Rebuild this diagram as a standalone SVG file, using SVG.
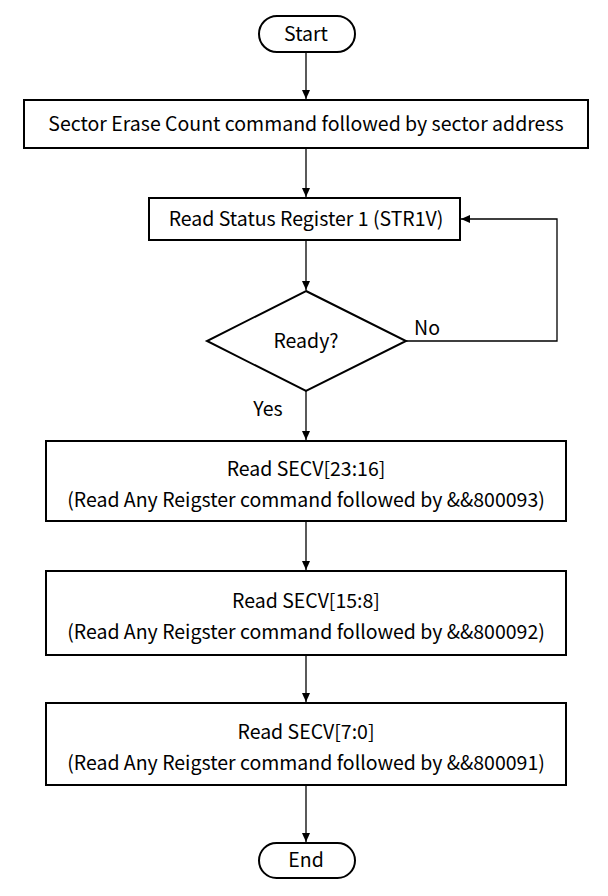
<svg xmlns="http://www.w3.org/2000/svg" width="608" height="896" viewBox="0 0 608 896">
<defs>
<marker id="ah" markerWidth="10" markerHeight="10" refX="9" refY="5" orient="auto" markerUnits="userSpaceOnUse"><path d="M0,1 L9,5 L0,9 z" fill="#000"/></marker>
<style>
.s{fill:#fff;stroke:#000;stroke-width:2}
.t{font-family:"Noto Sans CJK JP","Noto Sans",sans-serif;font-size:19.5px;text-anchor:middle;fill:#000}
.c{fill:none;stroke:#000;stroke-width:1.3;marker-end:url(#ah)}
</style>
</defs>
<rect width="608" height="896" fill="#fff"/>
<g id="start"><rect class="s" x="259" y="16" width="96" height="36" rx="18"/><text class="t" x="306" y="41">Start</text></g>
<g id="erase"><rect class="s" x="24" y="100" width="564" height="48"/><text class="t" x="306" y="131">Sector Erase Count command followed by sector address</text></g>
<g id="status"><rect class="s" x="149" y="198" width="311" height="42"/><text class="t" x="306" y="226">Read Status Register 1 (STR1V)</text></g>
<g id="ready"><polygon class="s" points="306,291 406,341 306,391 207,341"/><text class="t" x="306" y="348">Ready?</text></g>
<g id="secv1"><rect class="s" x="46" y="441" width="520" height="80"/><text class="t" x="306" y="476">Read SECV[23:16]</text><text class="t" x="306" y="507">(Read Any Reigster command followed by &amp;&amp;800093)</text></g>
<g id="secv2"><rect class="s" x="46" y="571" width="520" height="84"/><text class="t" x="306" y="608">Read SECV[15:8]</text><text class="t" x="306" y="639">(Read Any Reigster command followed by &amp;&amp;800092)</text></g>
<g id="secv3"><rect class="s" x="46" y="703" width="520" height="82"/><text class="t" x="306" y="739">Read SECV[7:0]</text><text class="t" x="306" y="770">(Read Any Reigster command followed by &amp;&amp;800091)</text></g>
<g id="end"><rect class="s" x="259" y="843" width="96" height="35" rx="17.5"/><text class="t" x="306" y="867">End</text></g>
<g id="connectors">
<line class="c" x1="306" y1="52" x2="306" y2="99"/>
<line class="c" x1="306" y1="148" x2="306" y2="197"/>
<line class="c" x1="306" y1="240" x2="306" y2="290"/>
<polyline class="c" points="406,341 557,341 557,219 461,219"/>
<line class="c" x1="306" y1="391" x2="306" y2="440"/>
<line class="c" x1="306" y1="521" x2="306" y2="570"/>
<line class="c" x1="306" y1="655" x2="306" y2="702"/>
<line class="c" x1="306" y1="785" x2="306" y2="842"/>
<text class="t" x="427" y="335">No</text>
<text class="t" x="268" y="416">Yes</text>
</g>
</svg>
